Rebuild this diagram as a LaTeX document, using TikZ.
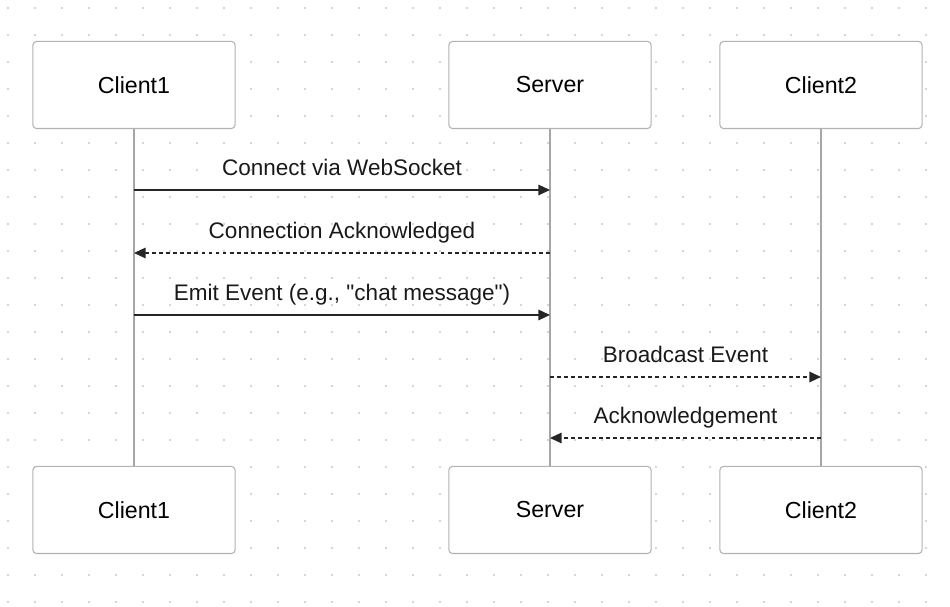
\documentclass[tikz,border=0pt]{standalone}
\usepackage{fontspec}
\setmainfont{Liberation Sans}
\usetikzlibrary{arrows.meta}
\begin{document}
\begin{tikzpicture}[x=0.01cm,y=-0.01cm,>={Triangle[length=3.3pt,width=3pt]},
    actor/.style={rectangle,draw=black!30,line width=0.3pt,fill=white,rounded corners=1pt,
      minimum width=2.02cm,minimum height=0.87cm,font=\fontsize{6.6}{8}\selectfont},
    lifeline/.style={draw=black!35,line width=0.7pt},
    msg/.style={->,line width=0.4pt,black!85},
    reply/.style={msg,dash pattern=on 1.1pt off 0.9pt},
    lbl/.style={font=\fontsize{6.4}{8}\selectfont,black!90,inner sep=0pt,anchor=base,yshift=4pt}]
  \useasboundingbox (0,0) rectangle (950,607);
  % dotted background
  \foreach \i in {0,...,35}
    \foreach \j in {0,...,22}
      \fill[black!22] (8+27*\i,8+27*\j) circle (0.3pt);

  \node[actor] (c1) at (134,85) {Client1};
  \node[actor] (srv) at (550,85) {Server};
  \node[actor] (c2) at (821,85) {Client2};
  \node[actor] (c1b) at (134,510) {Client1};
  \node[actor] (srvb) at (550,510) {Server};
  \node[actor] (c2b) at (821,510) {Client2};

  \draw[lifeline] (c1) -- (c1b);
  \draw[lifeline] (srv) -- (srvb);
  \draw[lifeline] (c2) -- (c2b);

  \coordinate (m1a) at (134,190); \coordinate (m1b) at (550,190);
  \coordinate (m2a) at (550,253); \coordinate (m2b) at (134,253);
  \coordinate (m3a) at (134,315); \coordinate (m3b) at (550,315);
  \coordinate (m4a) at (550,377); \coordinate (m4b) at (821,377);
  \coordinate (m5a) at (821,438); \coordinate (m5b) at (550,438);

  \draw[msg] (m1a) -- node[lbl] {Connect via WebSocket} (m1b);
  \draw[reply] (m2a) -- node[lbl] {Connection Acknowledged} (m2b);
  \draw[msg] (m3a) -- node[lbl] {Emit Event (e.g., \textquotedbl chat message\textquotedbl)} (m3b);
  \draw[reply] (m4a) -- node[lbl] {Broadcast Event} (m4b);
  \draw[reply] (m5a) -- node[lbl] {Acknowledgement} (m5b);
\end{tikzpicture}
\end{document}
